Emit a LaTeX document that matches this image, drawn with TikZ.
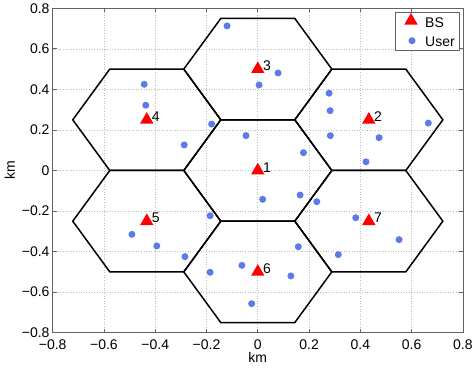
\documentclass[tikz,border=0pt]{standalone}
\usepackage{fontspec}
\setmainfont{Liberation Sans}
\usetikzlibrary{shapes.geometric}
\definecolor{userblue}{RGB}{92,122,234}
\definecolor{axgray}{RGB}{100,100,100}
\definecolor{gridgray}{RGB}{190,190,190}
\begin{document}
\begin{tikzpicture}[x=256.4pt,y=202.75pt,
  hexline/.style={black,line width=1.5pt},
  gridline/.style={gridgray,dotted,line width=0.6pt},
  axline/.style={axgray,line width=0.8pt},
  ticklab/.style={inner sep=0pt,font=\fontsize{14}{16}\selectfont},
  bsmark/.style={regular polygon,regular polygon sides=3,fill=red,draw=none,inner sep=0pt,minimum size=15.5pt},
  user/.style={circle,fill=userblue,draw=none,inner sep=0pt,minimum size=7pt},
  bslab/.style={anchor=base west,inner sep=0pt,xshift=5pt,yshift=-1.7pt,font=\fontsize{14}{16}\selectfont}]
\useasboundingbox (-1.00546,-0.97411) rectangle (0.84321,0.84093);
% white background
\fill[white] (-1.00546,-0.97411) rectangle (0.84321,0.84093);
% grid
\foreach \v in {-0.6,-0.4,-0.2,0,0.2,0.4,0.6}{
  \draw[gridline] (\v,-0.8) -- (\v,0.8);
  \draw[gridline] (-0.8,\v) -- (0.8,\v);
}
% hexagons
\foreach \cx/\cy in {0/0,0.4330/0.25,0/0.5,-0.4330/0.25,-0.4330/-0.25,0/-0.5,0.4330/-0.25}{
  \draw[hexline,shift={(\cx,\cy)}] (0.2887,0) -- (0.1443,0.25) -- (-0.1443,0.25) -- (-0.2887,0) -- (-0.1443,-0.25) -- (0.1443,-0.25) -- cycle;
}
% users
\foreach \ux/\uy [count=\i] in {
  -0.120/0.713, 0.079/0.481, 0.005/0.422, -0.443/0.425, -0.437/0.322,
  -0.180/0.229, -0.287/0.126, -0.046/0.172, 0.178/0.088, 0.019/-0.142,
  0.165/-0.121, 0.230/-0.154, -0.186/-0.223, 0.278/0.381, 0.282/0.295,
  0.665/0.234, 0.283/0.172, 0.473/0.162, 0.422/0.043, 0.382/-0.233,
  0.551/-0.341, 0.314/-0.415, -0.491/-0.315, -0.394/-0.372, -0.284/-0.425,
  -0.186/-0.502, -0.062/-0.468, 0.158/-0.376, 0.129/-0.520, -0.024/-0.657}{
  \node[user] (u\i) at (\ux,\uy) {};
}
% base stations
\foreach \bx/\by [count=\i] in {0/0,0.4330/0.25,0/0.5,-0.4330/0.25,-0.4330/-0.25,0/-0.5,0.4330/-0.25}{
  \node[bsmark] (bs\i) at (\bx,\by) {};
  \node[bslab] (bsl\i) at (bs\i.center) {\i};
}
% axes box and ticks
\draw[axline] (-0.8,-0.8) rectangle (0.8,0.8);
\foreach \v/\t in {-0.8/−0.8,-0.6/−0.6,-0.4/−0.4,-0.2/−0.2,0/0,0.2/0.2,0.4/0.4,0.6/0.6,0.8/0.8}{
  \draw[axline] (\v,-0.8) -- ++(0pt,4pt);
  \draw[axline] (\v,0.8) -- ++(0pt,-4pt);
  \draw[axline] (-0.8,\v) -- ++(4pt,0pt);
  \draw[axline] (0.8,\v) -- ++(-4pt,0pt);
  \node[ticklab,anchor=north,yshift=-7pt] at (\v,-0.8) {\t};
  \node[ticklab,anchor=east,xshift=-3pt] at (-0.8,\v) {\t};
}
\coordinate (ylabpos) at ([xshift=-37.7pt]-0.8,0);
\node[ticklab,anchor=base,yshift=-30pt] (xlab) at (0,-0.8) {km};
\node[ticklab,anchor=base,rotate=90] (ylab) at (ylabpos) {km};
% legend
\draw[axline,fill=white] (0.5351,0.5943) rectangle (0.7847,0.7803);
\node[bsmark] (legbs) at (0.5975,0.7387) {};
\node[user] (leguser) at (0.6014,0.6402) {};
\node[ticklab,anchor=base west] (legbst) at (0.652,0.7063) {BS};
\node[ticklab,anchor=base west] (legusert) at (0.652,0.614) {User};
\end{tikzpicture}
\end{document}
